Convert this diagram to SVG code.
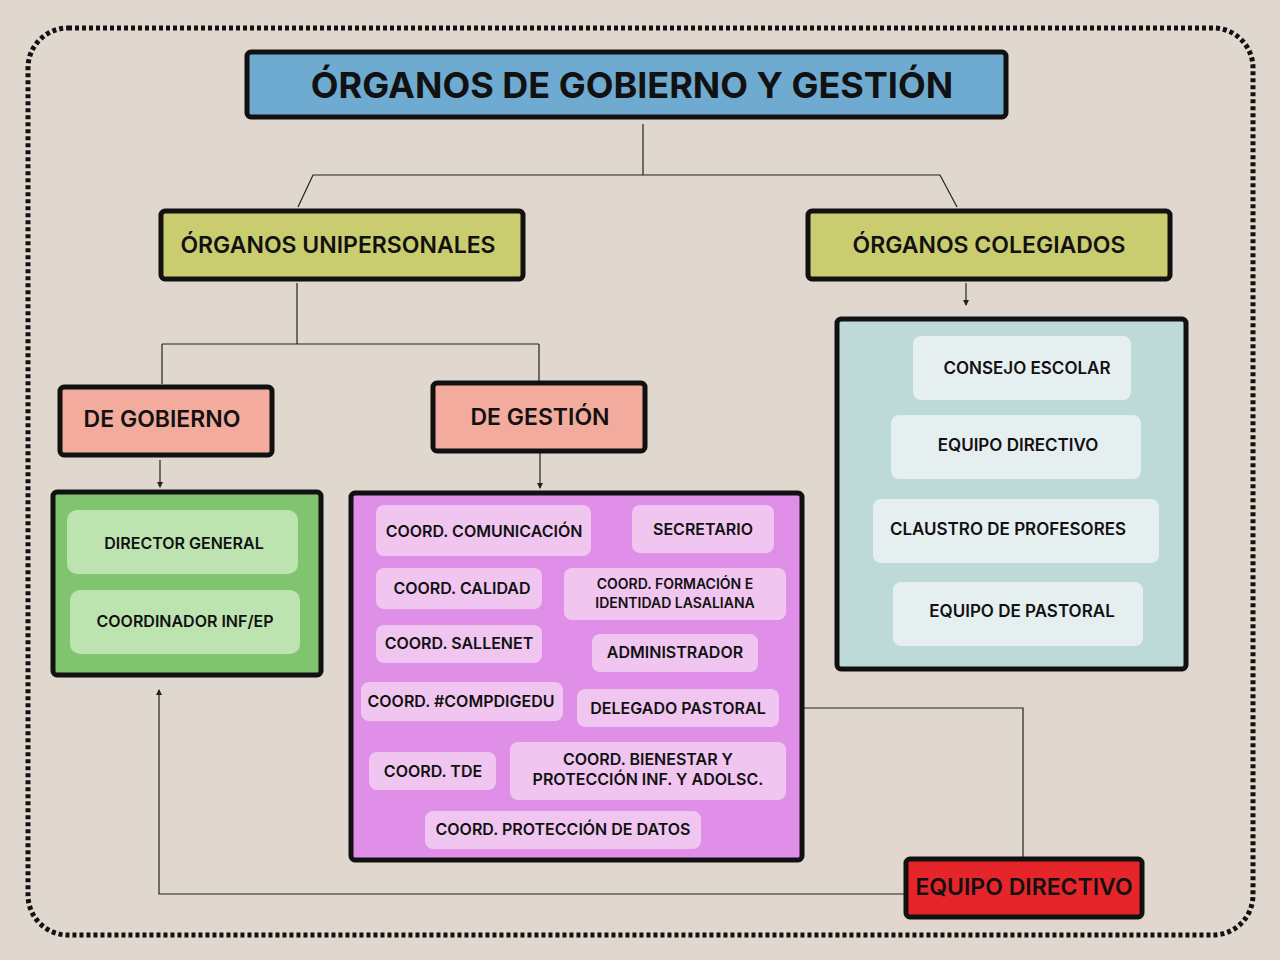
<svg xmlns="http://www.w3.org/2000/svg" width="1280" height="960" viewBox="0 0 1280 960">
<style>
text{font-family:Inter,"Open Sans","Liberation Sans",sans-serif;font-weight:600;fill:#111;text-anchor:middle;dominant-baseline:central}
.b{stroke:#111;stroke-width:5}
.c{fill:none;stroke:#222;stroke-width:1.2}
.s{font-size:16px}
.m{font-size:23px}
</style>
<defs><marker id="a" viewBox="0 0 6 6" refX="5" refY="3" markerWidth="5" markerHeight="5" orient="auto"><path d="M0,0L6,3L0,6z" fill="#222"/></marker></defs>
<rect width="1280" height="960" fill="#e0d7ce"/>
<rect x="28" y="28" width="1225" height="907" rx="40" fill="none" stroke="#111" stroke-width="5" stroke-dasharray="4 3"/>
<g id="connectors">
<path class="c" d="M643,124V175M298,207L313,175H940L957,207"/>
<path class="c" d="M297,283V344M162,344H539M162,344V384M539,344V382"/>
<path class="c" d="M966,283V305" marker-end="url(#a)"/>
<path class="c" d="M160,460V487" marker-end="url(#a)"/>
<path class="c" d="M540,453V488" marker-end="url(#a)"/>
<path class="c" d="M1023,857V708H782" marker-end="url(#a)"/>
<path class="c" d="M905,894H159V690" marker-end="url(#a)"/>
</g>
<g id="title"><rect class="b" x="247" y="52" width="759" height="65" rx="4" fill="#6fabd0"/><text x="632" y="85" style="font-size:36px;font-weight:700">ÓRGANOS DE GOBIERNO Y GESTIÓN</text></g>
<g id="unip"><rect class="b" x="161" y="211" width="362" height="68" rx="4" fill="#c9cd6f"/><text class="m" x="338" y="245">ÓRGANOS UNIPERSONALES</text></g>
<g id="coleg"><rect class="b" x="808" y="211" width="362" height="68" rx="4" fill="#c9cd6f"/><text class="m" x="989" y="245">ÓRGANOS COLEGIADOS</text></g>
<g id="gob"><rect class="b" x="60" y="387" width="212" height="68" rx="4" fill="#f2ab9c"/><text class="m" x="162" y="419">DE GOBIERNO</text></g>
<g id="gest"><rect class="b" x="433" y="383" width="212" height="68" rx="4" fill="#f2ab9c"/><text class="m" x="540" y="417">DE GESTIÓN</text></g>
<g id="gobbox"><rect class="b" x="53" y="492" width="268" height="183" rx="4" fill="#80c46f"/>
<rect x="67" y="510" width="231" height="64" rx="10" fill="#bde3b0"/><text class="s" x="184" y="543">DIRECTOR GENERAL</text>
<rect x="70" y="590" width="230" height="64" rx="10" fill="#bde3b0"/><text class="s" x="185" y="621">COORDINADOR INF/EP</text></g>
<g id="gestbox"><rect class="b" x="351" y="493" width="451" height="367" rx="4" fill="#df8fe8"/>
<g fill="#f0c5f0">
<rect x="376" y="505" width="215" height="51" rx="8"/><rect x="632" y="505" width="142" height="48" rx="8"/>
<rect x="376" y="568" width="166" height="41" rx="8"/><rect x="564" y="568" width="222" height="52" rx="8"/>
<rect x="376" y="625" width="166" height="38" rx="8"/><rect x="592" y="634" width="166" height="38" rx="8"/>
<rect x="361" y="682" width="202" height="39" rx="8"/><rect x="577" y="689" width="202" height="38" rx="8"/>
<rect x="369" y="752" width="127" height="38" rx="8"/><rect x="510" y="742" width="276" height="58" rx="8"/>
<rect x="425" y="811" width="276" height="38" rx="8"/></g>
<text class="s" x="484" y="531">COORD. COMUNICACIÓN</text><text class="s" x="703" y="529">SECRETARIO</text>
<text class="s" x="462" y="588">COORD. CALIDAD</text><text x="675" y="583" style="font-size:14px">COORD. FORMACIÓN E</text><text x="675" y="602" style="font-size:14px">IDENTIDAD LASALIANA</text>
<text class="s" x="459" y="643">COORD. SALLENET</text><text class="s" x="675" y="652">ADMINISTRADOR</text>
<text class="s" x="461" y="701">COORD. #COMPDIGEDU</text><text class="s" x="678" y="708">DELEGADO PASTORAL</text>
<text class="s" x="433" y="771">COORD. TDE</text><text class="s" x="648" y="759">COORD. BIENESTAR Y</text><text class="s" x="648" y="779">PROTECCIÓN INF. Y ADOLSC.</text>
<text class="s" x="563" y="829">COORD. PROTECCIÓN DE DATOS</text></g>
<g id="colbox"><rect class="b" x="837" y="319" width="349" height="350" rx="4" fill="#bdd9d8"/>
<g fill="#e6efef"><rect x="913" y="336" width="218" height="64" rx="8"/><rect x="891" y="415" width="250" height="64" rx="8"/><rect x="873" y="499" width="286" height="64" rx="8"/><rect x="893" y="582" width="250" height="64" rx="8"/></g>
<text class="s" x="1027" y="368" style="font-size:17px">CONSEJO ESCOLAR</text><text class="s" x="1018" y="445" style="font-size:17px">EQUIPO DIRECTIVO</text>
<text class="s" x="1008" y="529" style="font-size:17px">CLAUSTRO DE PROFESORES</text><text class="s" x="1022" y="611" style="font-size:17px">EQUIPO DE PASTORAL</text></g>
<g id="eqdir"><rect class="b" x="906" y="859" width="236" height="58" rx="4" fill="#e6252a"/><text class="m" x="1024" y="887">EQUIPO DIRECTIVO</text></g>
</svg>
